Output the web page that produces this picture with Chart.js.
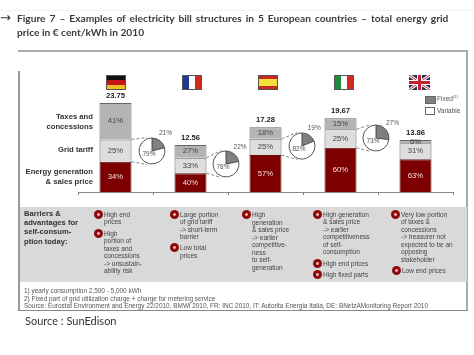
<!DOCTYPE html>
<html>
<head>
<meta charset="utf-8">
<script src="https://cdn.jsdelivr.net/npm/chart.js@4"></script>
<style>
  html, body { margin: 0; padding: 0; background: #fff; overflow: hidden; }
  #page { position: relative; width: 474px; height: 355px; overflow: hidden; filter: blur(0.45px);
          font-family: "Liberation Sans", Arial, sans-serif; color: #333; }
  #page > * { position: absolute; }
  .title { font-family: Lato, sans-serif; font-weight: 700; font-size: 10.2px; line-height: 15px; color: #3a3a3a; white-space: nowrap; }
  .row { font-weight: 700; font-size: 7.7px; line-height: 9.5px; text-align: right; width: 80px; left: 13px; color: #333; }
  .txt { font-size: 6.5px; line-height: 7.5px; white-space: pre; color: #444; }
  .bullet { width: 9px; height: 9px; border-radius: 50%; background: radial-gradient(circle, #f0b0b0 0 1px, #8c0a0a 1.8px); }
  .note { font-size: 6.45px; line-height: 7px; white-space: nowrap; color: #555; left: 24px; }
  .flag { overflow: hidden; width: 20px; height: 15px; box-sizing: border-box; border: 1px solid #555; }
  canvas { position: absolute; }
</style>
</head>
<body>
<div id="page">
  <div style="left:0;top:10px;width:474px;height:1px;background:#f3f3f3"></div>
  <div style="left:0;top:10px;font:13px 'DejaVu Sans';color:#333">→</div>
  <div class="title" style="left:17px;top:10.5px;word-spacing:1.5px">Figure 7 – Examples of electricity bill structures in 5 European countries – total energy grid</div>
  <div class="title" style="left:17px;top:25px">price in € cent/kWh in 2010</div>

  <!-- frame -->
  <div style="left:18px;top:50px;width:450px;height:2px;background:#aaa"></div>
  <div style="left:18px;top:71px;width:2px;height:240px;background:#999"></div>
  <div style="left:466px;top:50px;width:2px;height:261px;background:#aaa"></div>
  <div style="left:18px;top:310px;width:450px;height:1px;background:#888"></div>
  <div style="left:20px;top:207px;width:447px;height:75px;background:#d9d9d9"></div>

  <!-- flags -->
  <div class="flag" style="left:106px;top:75px;background:linear-gradient(#111 33%,#c81414 33% 66%,#f0c020 66%)"></div>
  <div class="flag" style="left:182px;top:75px;background:linear-gradient(90deg,#1c3c96 33%,#fff 33% 66%,#d22a20 66%)"></div>
  <div class="flag" style="left:258px;top:75px;background:linear-gradient(#c8281e 25%,#f6e13c 25% 75%,#c8281e 75%)"></div>
  <div class="flag" style="left:334px;top:75px;background:linear-gradient(90deg,#1e8c3c 33%,#fff 33% 66%,#d22a20 66%)"></div>
  <svg style="left:409px;top:75px" width="21" height="15" viewBox="0 0 21 15">
    <rect width="21" height="15" fill="#24305e"/>
    <path d="M0 0L21 15M21 0L0 15" stroke="#fff" stroke-width="3"/>
    <path d="M0 0L21 15M21 0L0 15" stroke="#c8202c" stroke-width="1"/>
    <path d="M10.5 0V15M0 7.5H21" stroke="#fff" stroke-width="5"/>
    <path d="M10.5 0V15M0 7.5H21" stroke="#c8202c" stroke-width="3"/>
  </svg>

  <!-- row labels -->
  <div class="row" style="top:112px">Taxes and<br>concessions</div>
  <div class="row" style="top:145px">Grid tariff</div>
  <div class="row" style="top:167px">Energy generation<br>&amp; sales price</div>

  <canvas id="barChart" width="474" height="355" style="left:0;top:0"></canvas>

  <!-- legend -->
  <div style="left:425px;top:96px;width:9px;height:6px;background:#808080;border:1px solid #666"></div>
  <div style="left:425px;top:107px;width:8px;height:6px;background:#fff;border:1px solid #666"></div>
  <div class="txt" style="left:437px;top:95px;color:#555">Fixed<sup style="font-size:4px;line-height:0">(1)</sup></div>
  <div class="txt" style="left:437px;top:107px;color:#555">Variable</div>

  <!-- barriers panel -->
  <div style="left:24px;top:209px;width:70px;font-weight:700;font-size:7.6px;line-height:9.2px;color:#333">Barriers &amp;<br>advantages for<br>self-consum-<br>ption today:</div>
  <div class="note" style="top:287px">1) yearly consumption 2,500 - 5,000 kWh</div>
  <div class="note" style="top:294.5px">2) Fixed part of grid utilization charge + charge for metering service</div>
  <div class="note" style="top:302px">Source: Eurostat Environment and Energy 22/2010, BMWi 2010, FR: INC 2010, IT: Autorita Energia Italia, DE: BNetzAMonitoring Report 2010</div>
  <div style="left:25px;top:314px;font:11px Lato,sans-serif;color:#333">Source : SunEdison</div>
</div>

<script>
// readings in euro cent/kWh
const countries = ["Germany", "France", "Spain", "Italy", "UK"];
const totals = [23.75, 12.56, 17.28, 19.67, 13.86];
const energy = [8.08, 5.02, 9.85, 11.80, 8.73];
const grid = [5.94, 4.14, 4.32, 4.92, 4.30];
const taxes = [9.73, 3.40, 3.11, 2.95, 0.83];

// share labels printed in the bars
const energyShare = [34, 40, 57, 60, 63];
const gridShare = [25, 33, 25, 25, 31];
const taxShare = [41, 27, 18, 15, 6];

// fixed / variable pies (no pie for the UK)
const fixedShare = [21, 22, 19, 27];
const variableShare = [79, 78, 82, 73];

const pieCenters = [[152, 151], [226, 164], [302, 146], [376, 138]];

const font = "'Liberation Sans', Arial, sans-serif";

// percent labels + totals + dashed lines to the pies
const barLabels = {
  id: "barLabels",
  afterDatasetsDraw(chart) {
    const ctx = chart.ctx;
    const shares = [energyShare, gridShare, taxShare];
    ctx.save();
    ctx.textAlign = "center";
    ctx.textBaseline = "middle";
    ctx.font = "7.7px " + font;
    shares.forEach((share, d) => {
      chart.getDatasetMeta(d).data.forEach((bar, i) => {
        ctx.fillStyle = d === 0 ? "#f4dcdc" : "#444";
        ctx.fillText(share[i] + "%", bar.x, (bar.y + bar.base) / 2);
      });
    });
    ctx.font = "bold 7.7px " + font;
    ctx.fillStyle = "#222";
    chart.getDatasetMeta(2).data.forEach((bar, i) => {
      ctx.fillText(totals[i].toFixed(2), bar.x, bar.y - 7);
    });
    ctx.strokeStyle = "#666";
    ctx.lineWidth = 0.8;
    ctx.setLineDash([3, 2]);
    pieCenters.forEach((c, i) => {
      const bar = chart.getDatasetMeta(1).data[i];
      const right = bar.x + bar.width / 2;
      ctx.beginPath();
      ctx.moveTo(right, bar.y);
      ctx.lineTo(c[0] - 5, c[1] - 13.5);
      ctx.moveTo(right, bar.base);
      ctx.lineTo(c[0] - 5, c[1] + 13.5);
      ctx.stroke();
    });
    ctx.restore();
  }
};

new Chart(document.getElementById("barChart"), {
  type: "bar",
  data: {
    labels: countries,
    datasets: [
      { label: "Energy generation & sales price", data: energy, backgroundColor: "#7c0000", borderColor: "#5a1010" },
      { label: "Grid tariff", data: grid, backgroundColor: "#dedede", borderColor: "#666" },
      { label: "Taxes and concessions", data: taxes, backgroundColor: "#b4b4b4", borderColor: "#666" }
    ]
  },
  options: {
    responsive: false,
    animation: false,
    layout: { padding: { left: 78, right: 21, top: 79.5, bottom: 160 } },
    datasets: { bar: { borderWidth: 1, barPercentage: 0.427, categoryPercentage: 1 } },
    plugins: { legend: { display: false }, tooltip: { enabled: false } },
    scales: {
      x: {
        stacked: true,
        ticks: { display: false },
        border: { color: "#888" },
        grid: { drawOnChartArea: false, tickLength: 3, color: "#777" }
      },
      y: { stacked: true, display: false, min: 0, max: 30 }
    }
  },
  plugins: [barLabels]
});

// small labels around each pie
const pieLabels = {
  id: "pieLabels",
  afterDatasetsDraw(chart) {
    const ctx = chart.ctx;
    const arc = chart.getDatasetMeta(0).data[0];
    const mid = (arc.startAngle + arc.endAngle) / 2;
    const vals = chart.data.datasets[0].data;
    ctx.save();
    ctx.font = "6.5px " + font;
    ctx.fillStyle = "#555";
    ctx.textAlign = "center";
    ctx.textBaseline = "middle";
    ctx.fillText(vals[0] + "%", arc.x + Math.cos(mid) * 22, arc.y + Math.sin(mid) * 22);
    ctx.fillText(vals[1] + "%", arc.x - 3, arc.y + 3);
    ctx.restore();
  }
};

pieCenters.forEach((c, i) => {
  const canvas = document.createElement("canvas");
  canvas.width = 60;
  canvas.height = 60;
  canvas.style.left = (c[0] - 30) + "px";
  canvas.style.top = (c[1] - 30) + "px";
  document.getElementById("page").appendChild(canvas);
  new Chart(canvas, {
    type: "pie",
    data: {
      labels: ["Fixed", "Variable"],
      datasets: [{ data: [fixedShare[i], variableShare[i]], backgroundColor: ["#808080", "#fff"], borderColor: "#555", borderWidth: 1 }]
    },
    options: {
      responsive: false,
      animation: false,
      radius: 13,
      plugins: { legend: { display: false }, tooltip: { enabled: false } }
    },
    plugins: [pieLabels]
  });
});

// text blocks in the grey panel
const panel = [
  [98, 214, "High end\nprices"],
  [98, 233, "High\nportion of\ntaxes and\nconcessions\n-> unsustain-\nability risk"],
  [174, 214, "Large portion\nof grid tariff\n-> short-term\nbarrier"],
  [174, 247.5, "Low total\nprices"],
  [246, 214.5, "High\ngeneration\n& sales price\n-> earlier\ncompetitive-\nness\nto self-\ngeneration"],
  [317, 214, "High generation\n& sales price\n-> earlier\ncompetitiveness\nof self-\nconsumption"],
  [317, 263, "High end prices"],
  [317, 274.5, "High fixed parts"],
  [395, 214, "Very low portion\nof taxes &\nconcessions\n-> treasurer not\nexpected to be an\nopposing\nstakeholder"],
  [396, 270, "Low end prices"]
];
panel.forEach(p => {
  const dot = document.createElement("div");
  dot.className = "bullet";
  dot.style.left = (p[0] - 4.5) + "px";
  dot.style.top = (p[1] - 4.5) + "px";
  const txt = document.createElement("div");
  txt.className = "txt";
  txt.textContent = p[2];
  txt.style.left = (p[0] + 6) + "px";
  txt.style.top = (p[1] - 3.5) + "px";
  const page = document.getElementById("page");
  page.appendChild(dot);
  page.appendChild(txt);
});
</script>
</body>
</html>
